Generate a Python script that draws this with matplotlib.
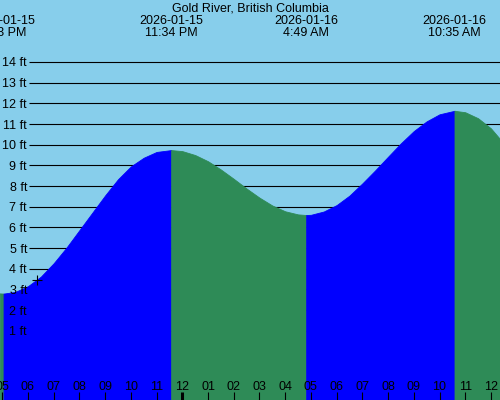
import matplotlib
matplotlib.use("Agg")
import matplotlib.pyplot as plt

# ---------------- data ----------------
title = "Gold River, British Columbia"

# tide extremes (hours relative to 2026-01-16 00:00)
event_dates = ["2026-01-15", "2026-01-15", "2026-01-16", "2026-01-16"]
event_times = ["5:03 PM", "11:34 PM", "4:49 AM", "10:35 AM"]
event_hours = [-6.95, -0.433, 4.817, 10.583]
event_ft = [2.80, 9.74, 6.60, 11.64]

# tide height readings (ft)
tide_hours = [-7.1, -6.95, -6.5, -6.0, -5.5, -5.0, -4.5, -4.0, -3.5, -3.0,
              -2.5, -2.0, -1.5, -1.0, -0.433, 0.0, 0.5, 1.0, 1.5, 2.0,
              2.5, 3.0, 3.5, 4.0, 4.5, 4.817, 5.0, 5.5, 6.0, 6.5,
              7.0, 7.5, 8.0, 8.5, 9.0, 9.5, 10.0, 10.583, 11.0, 11.5,
              12.0, 12.5]
tide_ft = [2.81, 2.80, 2.88, 3.16, 3.62, 4.27, 5.03, 5.87, 6.71, 7.55,
           8.33, 8.95, 9.37, 9.65, 9.74, 9.69, 9.50, 9.20, 8.80, 8.35,
           7.88, 7.44, 7.06, 6.78, 6.63, 6.60, 6.61, 6.77, 7.08, 7.54,
           8.13, 8.76, 9.42, 10.07, 10.66, 11.13, 11.47, 11.64, 11.57, 11.28,
           10.79, 10.06]

# current-time marker
now_hour = -5.66
now_ft = 3.45

# axis labels
hour_ticks = list(range(-7, 13))
hour_labels = ["05", "06", "07", "08", "09", "10", "11", "12", "01", "02",
               "03", "04", "05", "06", "07", "08", "09", "10", "11", "12"]
ft_levels = list(range(1, 15))
ft_labels = [f"{v} ft" for v in ft_levels]

# ---------------- style ----------------
SKY = "#87CEEB"
RISE = "#0000FF"
FALL = "#2E8B57"

plt.rcParams['font.family'] = ['Liberation Sans', 'DejaVu Sans']
plt.rcParams['font.size'] = 9

fig = plt.figure(figsize=(5, 4), dpi=100)
fig.patch.set_facecolor(SKY)
ax = fig.add_axes([0, 0, 1, 1])
ax.set_facecolor(SKY)
for s in ax.spines.values():
    s.set_visible(False)
ax.set_xticks([])
ax.set_yticks([])

XMIN, XMAX = -7.088, 12.352
YMIN, YMAX = -2.345, 16.997
ax.set_xlim(XMIN, XMAX)
ax.set_ylim(YMIN, YMAX)

ytrans = ax.get_yaxis_transform()   # x in axes, y in data
xtrans = ax.get_xaxis_transform()   # x in data, y in axes

# gridlines (under water)
for v in ft_levels:
    ax.plot([0.058, 1.0], [v, v], transform=ytrans, color="black",
            lw=0.8, zorder=1, solid_capstyle="butt")

# water fill, split at extremes
bounds = [-1e9] + event_hours + [1e9]
for b0, b1 in zip(bounds[:-1], bounds[1:]):
    xs = [t for t in tide_hours if b0 - 1e-9 <= t <= b1 + 1e-9]
    ys = [h for t, h in zip(tide_hours, tide_ft) if b0 - 1e-9 <= t <= b1 + 1e-9]
    if len(xs) < 2:
        continue
    color = RISE if ys[-1] > ys[0] else FALL
    ax.fill_between(xs, ys, YMIN, color=color, lw=0.6, edgecolor=color,
                    zorder=2)

# ft labels
for v, lab in zip(ft_levels, ft_labels):
    ax.text(0.054, v, lab, transform=ytrans, ha="right",
            va="center_baseline", zorder=5, color="black")

# hour ticks and labels
for h, lab in zip(hour_ticks, hour_labels):
    lw = 2.2 if h == 0 else 0.8
    ax.plot([h, h], [0.0, 0.02], transform=xtrans, color="black", lw=lw,
            zorder=5, solid_capstyle="butt", clip_on=False)
    ax.text(h, 0.025, lab, transform=xtrans, ha="center", va="baseline",
            zorder=5, color="black")

# current time marker
ax.plot([now_hour], [now_ft], marker="+", color="black", ms=7, mew=0.8,
        zorder=6, linestyle="none")

# title and extreme labels
ax.text(0.5, 1 - 11.7 / 400, title, transform=ax.transAxes, ha="center",
        va="baseline", color="black", zorder=6)
for t, d, tm in zip(event_hours, event_dates, event_times):
    ax.text(t, 1 - 24.3 / 400, d, transform=xtrans, ha="center",
            va="baseline", color="black", zorder=6, clip_on=False)
    ax.text(t, 1 - 36.0 / 400, tm, transform=xtrans, ha="center",
            va="baseline", color="black", zorder=6, clip_on=False)

fig.savefig("out.png", dpi=100, facecolor=SKY)
